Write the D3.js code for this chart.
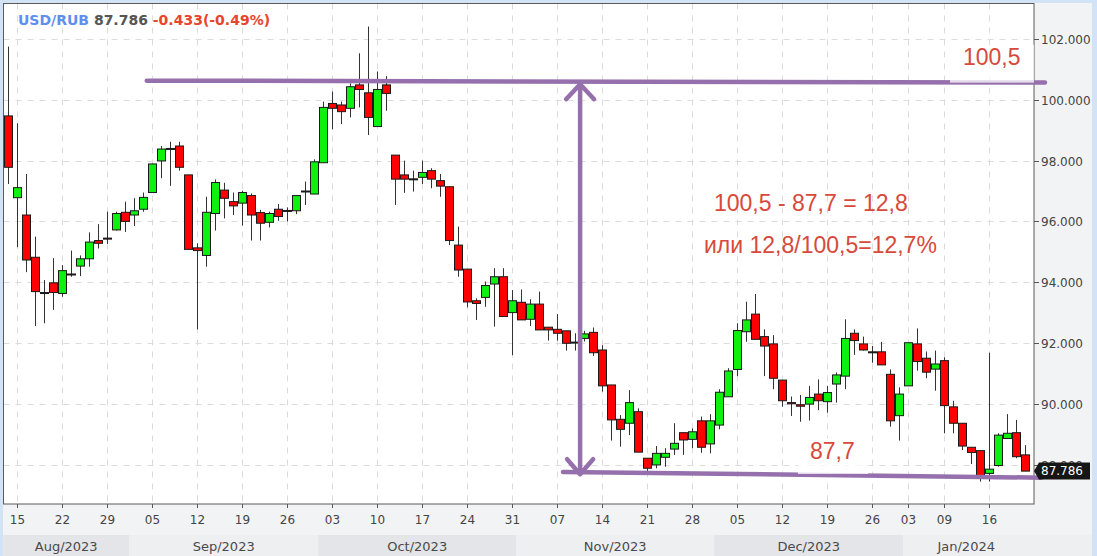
<!DOCTYPE html>
<html><head><meta charset="utf-8">
<script src="https://cdn.jsdelivr.net/npm/d3@7"></script>
<style>html,body{margin:0;padding:0;background:#d3e3f6;}svg{display:block;}</style>
</head><body>
<script>
// ---------- DATA ----------
const dates = [
"2023-08-14","2023-08-15","2023-08-16","2023-08-17","2023-08-18","2023-08-21","2023-08-22","2023-08-23","2023-08-24","2023-08-25",
"2023-08-28","2023-08-29","2023-08-30","2023-08-31","2023-09-01","2023-09-04","2023-09-05","2023-09-06","2023-09-07","2023-09-08",
"2023-09-11","2023-09-12","2023-09-13","2023-09-14","2023-09-15","2023-09-18","2023-09-19","2023-09-20","2023-09-21","2023-09-22",
"2023-09-25","2023-09-26","2023-09-27","2023-09-28","2023-09-29","2023-10-02","2023-10-03","2023-10-04","2023-10-05","2023-10-06",
"2023-10-09","2023-10-10","2023-10-11","2023-10-12","2023-10-13","2023-10-16","2023-10-17","2023-10-18","2023-10-19","2023-10-20",
"2023-10-23","2023-10-24","2023-10-25","2023-10-26","2023-10-27","2023-10-30","2023-10-31","2023-11-01","2023-11-02","2023-11-03",
"2023-11-06","2023-11-07","2023-11-08","2023-11-09","2023-11-10","2023-11-13","2023-11-14","2023-11-15","2023-11-16","2023-11-17",
"2023-11-20","2023-11-21","2023-11-22","2023-11-23","2023-11-24","2023-11-27","2023-11-28","2023-11-29","2023-11-30","2023-12-01",
"2023-12-04","2023-12-05","2023-12-06","2023-12-07","2023-12-08","2023-12-11","2023-12-12","2023-12-13","2023-12-14","2023-12-15",
"2023-12-18","2023-12-19","2023-12-20","2023-12-21","2023-12-22","2023-12-25","2023-12-26","2023-12-27","2023-12-28","2023-12-29",
"2024-01-03","2024-01-04","2024-01-05","2024-01-08","2024-01-09","2024-01-10","2024-01-11","2024-01-12","2024-01-15","2024-01-16",
"2024-01-17","2024-01-18","2024-01-19","2024-01-22"];

const open = [99.47,96.78,96.21,94.82,93.66,93.98,93.63,94.25,94.53,94.77,
95.37,95.45,95.72,96.30,96.21,96.40,96.95,97.99,98.40,98.48,
97.53,95.13,94.88,96.26,97.03,96.65,96.60,96.85,96.29,95.97,
96.40,96.33,96.35,97.00,96.90,97.93,99.88,99.83,99.72,100.49,
100.23,99.12,100.49,98.18,97.53,97.40,97.45,97.67,97.34,97.14,
95.22,94.43,93.39,93.50,93.94,94.18,93.00,93.34,92.78,93.28,
92.52,92.45,92.40,92.03,92.15,92.35,91.77,90.62,89.49,89.36,
89.74,88.21,87.99,88.24,88.51,89.05,88.83,89.44,88.68,89.30,
90.23,91.13,92.37,92.95,92.21,91.97,90.78,90.04,89.97,89.99,
90.32,90.07,90.65,90.91,92.32,91.97,91.71,91.71,90.97,89.61,
90.59,91.97,91.50,91.14,91.42,89.90,89.36,88.57,88.46,87.71,
87.97,88.86,89.05,88.32];

const high = [101.75,99.23,97.56,95.50,94.07,94.79,94.56,95.04,94.88,95.64,
95.91,96.32,96.32,96.65,96.76,96.95,97.90,98.48,98.62,98.62,
97.53,95.28,96.81,97.38,97.27,96.95,97.01,96.92,96.38,96.32,
96.57,96.46,96.87,97.31,98.04,99.94,100.27,99.94,100.54,101.53,
102.41,100.93,100.78,98.18,98.00,97.67,98.00,97.75,97.56,97.14,
95.83,94.43,93.47,94.02,94.46,94.46,93.74,93.76,93.44,93.69,
92.52,92.95,92.40,92.32,92.40,92.51,91.93,90.62,89.63,90.45,
89.85,88.21,88.61,88.54,89.36,89.05,89.19,89.58,89.66,90.48,
91.17,92.65,93.36,93.61,92.45,92.26,90.78,90.24,90.29,90.59,
90.80,90.59,91.03,92.78,92.45,92.21,91.90,92.04,91.13,90.54,
92.01,92.48,91.72,91.75,91.53,90.10,89.36,88.57,88.46,91.68,
89.03,89.66,89.47,88.64];

const low = [97.23,95.15,94.33,92.56,92.65,93.09,93.52,94.18,94.20,94.51,
95.11,95.26,95.70,95.65,95.85,96.32,96.95,97.42,97.17,97.67,
95.08,92.45,94.51,95.70,96.10,96.21,95.86,95.37,95.37,95.80,
96.02,96.00,96.24,96.54,96.90,97.93,99.03,99.20,99.42,99.75,
98.84,99.12,99.64,96.54,96.94,96.98,97.23,97.09,96.81,95.22,
94.18,93.17,92.76,93.19,92.54,92.87,91.60,92.76,92.56,92.43,
92.08,92.08,91.75,91.75,92.05,91.57,90.40,88.79,88.59,88.97,
88.41,87.77,87.88,87.93,88.32,88.32,88.54,88.39,88.37,89.16,
90.23,90.91,92.04,92.12,90.91,90.48,89.90,89.60,89.41,89.45,
89.79,89.71,90.04,90.48,91.61,91.75,91.35,91.28,89.25,88.79,
90.59,91.09,90.84,90.43,89.03,89.03,88.48,88.02,87.44,87.44,
87.93,88.86,88.21,87.786];

const close = [97.78,97.11,94.73,93.69,93.63,93.66,94.38,94.27,94.77,95.32,
95.28,95.42,96.26,96.00,96.35,96.79,97.89,98.38,98.38,97.78,
95.08,95.04,96.30,97.28,96.76,96.51,96.95,96.21,95.94,96.26,
96.16,96.36,96.85,96.98,97.96,99.75,99.72,99.61,100.43,100.34,
99.42,100.34,100.21,97.39,97.39,97.38,97.61,97.39,97.16,95.37,
94.40,93.35,93.30,93.89,94.18,92.87,93.39,92.76,93.28,92.43,
92.43,92.32,91.99,92.01,92.30,91.68,90.59,89.47,89.16,90.04,
88.41,87.88,88.37,88.37,88.70,88.81,89.08,88.57,89.44,90.38,
91.08,92.41,92.76,92.12,91.90,90.84,90.10,90.00,89.92,90.21,
90.10,90.37,90.95,92.15,92.08,91.77,91.68,91.28,89.44,90.32,
92.01,91.39,91.04,91.31,89.94,89.36,88.61,88.40,87.60,87.85,
88.97,89.03,88.26,87.786];

const yTicks = [88, 90, 92, 94, 96, 98, 100, 102];
const xTickDates = ["2023-08-15","2023-08-22","2023-08-29","2023-09-05","2023-09-12","2023-09-19","2023-09-26",
"2023-10-03","2023-10-10","2023-10-17","2023-10-24","2023-10-31","2023-11-07","2023-11-14","2023-11-21","2023-11-28",
"2023-12-05","2023-12-12","2023-12-19","2023-12-26","2024-01-03","2024-01-09","2024-01-16"];
const months = ["2023-08","2023-09","2023-10","2023-11","2023-12","2024-01"];
const monthLabels = ["Aug/2023","Sep/2023","Oct/2023","Nov/2023","Dec/2023","Jan/2024"];

const symbol = "USD/RUB", lastPrice = "87.786", change = "-0.433(-0.49%)";
const levelHigh = 100.5, levelLow = 87.7;
const annot = ["100,5", "100,5 - 87,7 = 12,8", "или 12,8/100,5=12,7%", "87,7"];

// ---------- LAYOUT ----------
const W = 1097, H = 556;
const P = {l: 3.5, t: 3.5, r: 1034, b: 504};

const svg = d3.select("body").append("svg").attr("width", W).attr("height", H);
svg.append("rect").attr("width", W).attr("height", H).attr("fill", "#d3e3f6");
svg.append("rect").attr("x", 3).attr("y", 3).attr("width", 1089).attr("height", H - 3).attr("fill", "#f2f3f5");

const x = d3.scaleBand().domain(dates).range([3.2, 1029.2]).paddingInner(0.04).paddingOuter(0.02);
const xc = d => x(d) + x.bandwidth() / 2;
const xi = d3.scaleLinear().domain([0, dates.length - 1]).range([xc(dates[0]), xc(dates[dates.length - 1])]);
const y = d3.scaleLinear().domain([88, 102]).range([464.6, 39]);

// month bands
months.forEach((m, k) => {
  const idx = dates.map((d, i) => d.startsWith(m) ? i : -1).filter(i => i >= 0);
  const a = Math.max(3, xi(idx[0] - 0.5)), b = k === months.length - 1 ? 1092 : xi(idx[idx.length - 1] + 0.5);
  const bc = xi(idx[idx.length - 1] + 0.5);
  svg.append("rect").attr("x", a).attr("y", 535).attr("width", b - a).attr("height", H - 535)
    .attr("fill", k % 2 === 0 ? "#e4e5e8" : "#eeeff1");
  svg.append("text").attr("x", (a + bc) / 2).attr("y", 551).attr("text-anchor", "middle")
    .attr("font-family", "DejaVu Sans").attr("font-size", 13).attr("fill", "#4a4a4a").text(monthLabels[k]);
});

// plot area
svg.append("rect").attr("x", P.l).attr("y", P.t).attr("width", P.r - P.l).attr("height", P.b - P.t)
  .attr("fill", "#fff");
svg.append("clipPath").attr("id", "clip").append("rect").attr("x", P.l).attr("y", P.t)
  .attr("width", P.r - P.l).attr("height", P.b - P.t);

const grid = svg.append("g").attr("stroke", "#dcdcdc").attr("stroke-dasharray", "6,6").attr("stroke-width", 1);
xTickDates.forEach(d => grid.append("line").attr("x1", Math.round(xc(d)) + 0.5).attr("x2", Math.round(xc(d)) + 0.5)
  .attr("y1", P.t).attr("y2", P.b));
yTicks.forEach(v => grid.append("line").attr("x1", P.l).attr("x2", P.r)
  .attr("y1", Math.round(y(v)) + 0.5).attr("y2", Math.round(y(v)) + 0.5));

// candles
const g = svg.append("g").attr("clip-path", "url(#clip)");
const bw = 8;
dates.forEach((d, i) => {
  const cx = Math.round(xc(d)) + 0.5;
  g.append("line").attr("x1", cx).attr("x2", cx).attr("y1", y(high[i])).attr("y2", y(low[i]))
    .attr("stroke", "#333").attr("stroke-width", 1);
  const top = y(Math.max(open[i], close[i])), bot = y(Math.min(open[i], close[i]));
  g.append("rect").attr("x", cx - bw / 2).attr("y", top).attr("width", bw)
    .attr("height", Math.max(1, bot - top))
    .attr("fill", close[i] >= open[i] ? "#0ef00e" : "#ff0000").attr("stroke", "#1a1a1a").attr("stroke-width", 1);
});

// frame
svg.append("rect").attr("x", P.l).attr("y", P.t).attr("width", P.r - P.l).attr("height", P.b - P.t)
  .attr("fill", "none").attr("stroke", "#5a5a5a");

// header
const hdr = svg.append("text").attr("x", 18).attr("y", 25).attr("font-family", "DejaVu Sans")
  .attr("font-weight", "bold").attr("font-size", 14);
hdr.append("tspan").attr("fill", "#5c8ff0").text(symbol + " ");
hdr.append("tspan").attr("fill", "#555").text(lastPrice + " ");
hdr.append("tspan").attr("fill", "#e8452c").text(change);

// annotations
const purple = "#9570ad";
const ann = svg.append("g");
ann.append("line").attr("x1", xi(15.45)).attr("x2", 1045).attr("y1", y(100.63)).attr("y2", y(100.57))
  .attr("stroke", purple).attr("stroke-width", 4.5).attr("stroke-linecap", "round");
ann.append("line").attr("x1", xi(61.7)).attr("x2", 1041).attr("y1", y(87.76)).attr("y2", y(87.57))
  .attr("stroke", purple).attr("stroke-width", 4.5).attr("stroke-linecap", "round");
const ax = xi(63.6);
const aTop = y(100.58), aBot = y(87.65);
ann.append("line").attr("x1", ax).attr("x2", ax).attr("y1", aTop + 2).attr("y2", aBot - 2)
  .attr("stroke", purple).attr("stroke-width", 4.5);
ann.append("path").attr("d", `M${ax - 14},${aTop + 17}L${ax},${aTop + 2}L${ax + 14},${aTop + 17}`)
  .attr("fill", "none").attr("stroke", purple).attr("stroke-width", 4.5).attr("stroke-linecap", "round").attr("stroke-linejoin", "round");
ann.append("path").attr("d", `M${ax - 13},${aBot - 16}L${ax},${aBot - 1}L${ax + 13},${aBot - 16}`)
  .attr("fill", "none").attr("stroke", purple).attr("stroke-width", 4.5).attr("stroke-linecap", "round").attr("stroke-linejoin", "round");
// semi-transparent label boxes overlapping lines
ann.append("rect").attr("x", 950).attr("y", y(levelHigh) - 40).attr("width", 84).attr("height", 40 + 0.5 + (y(100.58) - y(levelHigh)))
  .attr("fill", "#fff").attr("opacity", 0.75);
ann.append("rect").attr("x", 798).attr("y", 438).attr("width", 70).attr("height", 36)
  .attr("fill", "#fff").attr("opacity", 0.75);

const tf = (t, xx, yy) => ann.append("text").attr("x", xx).attr("y", yy).attr("font-family", "Liberation Sans, Arial, sans-serif")
  .attr("font-size", 23).attr("fill", "#d7493b").text(t);
tf(annot[0], 963, 65);
tf(annot[1], 714, 211);
tf(annot[2], 704, 253);
tf(annot[3], 810, 459);

// axes
const ya = svg.append("g");
yTicks.forEach(v => {
  const yy = Math.round(y(v)) + 0.5;
  ya.append("line").attr("x1", P.r).attr("x2", P.r + 5).attr("y1", yy).attr("y2", yy).attr("stroke", "#555");
  ya.append("text").attr("x", P.r + 7).attr("y", yy).attr("dy", "0.35em").attr("font-family", "DejaVu Sans")
    .attr("font-size", 12).attr("fill", "#444").text(d3.format(".3f")(v));
});
const xa = svg.append("g");
const dayFmt = d3.timeFormat("%d"), parse = d3.timeParse("%Y-%m-%d");
xTickDates.forEach(d => {
  const xx = Math.round(xc(d)) + 0.5;
  xa.append("line").attr("x1", xx).attr("x2", xx).attr("y1", P.b).attr("y2", P.b + 4).attr("stroke", "#555");
  xa.append("text").attr("x", xx).attr("y", 524).attr("text-anchor", "middle").attr("font-family", "DejaVu Sans")
    .attr("font-size", 12).attr("fill", "#444").text(dayFmt(parse(d)));
});

// last price label
const ly = y(+lastPrice);
svg.append("path").attr("d", `M${P.r},${ly}L${P.r + 5},${ly - 8.5}L${P.r + 56},${ly - 8.5}L${P.r + 56},${ly + 8.5}L${P.r + 5},${ly + 8.5}Z`)
  .attr("fill", "#161616");
svg.append("text").attr("x", P.r + 7).attr("y", ly).attr("dy", "0.36em").attr("font-family", "DejaVu Sans")
  .attr("font-size", 12).attr("fill", "#fff").text(lastPrice);

// right blue strip
svg.append("rect").attr("x", 1092).attr("y", 0).attr("width", 5).attr("height", H).attr("fill", "#d3e3f6");
</script>
</body></html>
